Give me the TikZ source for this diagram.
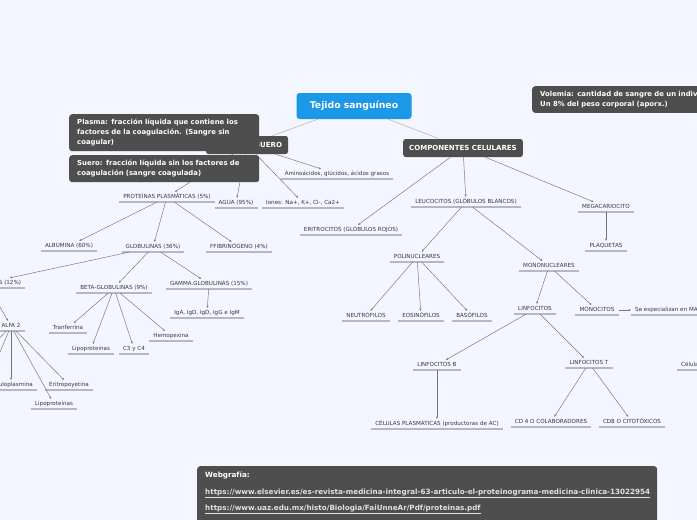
\documentclass[tikz,border=0pt]{standalone}
\usepackage{fontspec}
\setmainfont{DejaVu Sans}
\usepackage{xcolor}
\usetikzlibrary{arrows.meta}

\definecolor{fondo}{RGB}{243,246,254}
\definecolor{oscuro}{RGB}{78,78,78}
\definecolor{azul}{RGB}{27,152,231}
\definecolor{subr}{RGB}{180,184,196}
\definecolor{linea}{RGB}{115,115,115}
\definecolor{texto}{RGB}{55,55,60}
\definecolor{enlace}{RGB}{225,225,225}

\begin{document}
\begin{tikzpicture}[x=1pt,y=-1pt,
  root/.style={fill=azul,rounded corners=3pt,text=white,
    font=\fontsize{9.3}{11}\selectfont\bfseries,minimum width=115pt,minimum height=26pt},
  topic/.style={fill=oscuro,rounded corners=2.5pt,text=white,
    font=\fontsize{7}{8}\selectfont\bfseries,inner xsep=6pt,minimum height=18pt},
  leaf/.style={text=texto,font=\fontsize{5.6}{6.5}\selectfont,inner xsep=4pt,inner ysep=2.2pt,
    text height=4.3pt,text depth=1.2pt,
    append after command={(\tikzlastnode.south west) edge[subr,line width=1.5pt] (\tikzlastnode.south east)}},
  note/.style={fill=oscuro,rounded corners=3pt,text=white,anchor=north west,
    font=\fontsize{6.9}{10}\selectfont\bfseries,align=left,inner xsep=8pt,inner ysep=5pt},
  conn/.style={linea,line width=0.45pt,-{Stealth[length=2.4pt,width=2pt]}},
  trunk/.style={linea!55,line width=0.5pt}]

\fill[fondo] (0,0) rectangle (697,520);
\useasboundingbox (0,0) rectangle (697,520);

% main topics
\node[root] (tejido) at (354,106) {Tejido sanguíneo};
\node[topic] (plasma) at (247,145) {PLASMA O SUERO};
\node[topic] (comp) at (463,148) {COMPONENTES CELULARES};

% plasma side
\node[leaf] (prot) at (167,197) {PROTEÍNAS PLASMÁTICAS (5\%)};
\node[leaf] (agua) at (236,203) {AGUA (95\%)};
\node[leaf] (iones) at (303,203) {Iones: Na+, K+, Cl-, Ca2+};
\node[leaf] (amino) at (337,174) {Aminoácidos, glúcidos, ácidos grasos};
\node[leaf] (albu) at (69,246) {ALBÚMINA (60\%)};
\node[leaf] (glob) at (153,247) {GLOBULINAS (36\%)};
\node[leaf] (fibri) at (239,247) {FFIBRINÓGENO (4\%)};
\node[leaf] (alfa) at (-14,283) {ALFA-GLOBULINAS (12\%)};
\node[leaf] (beta) at (114,288) {BETA-GLOBULINAS (9\%)};
\node[leaf] (gamma) at (209,284) {GAMMA.GLOBULINAS (15\%)};
\node[leaf] (inmuno) at (207,313) {IgA, IgD, IgD, IgG e IgM};
\node[leaf] (tranf) at (68,328) {Tranferrina};
\node[leaf] (lipob) at (91,349) {Lipoproteinas};
\node[leaf] (c3c4) at (134,349) {C3 y C4};
\node[leaf] (hemo) at (171,336) {Hemopexina};
\node[leaf] (alfados) at (11,326) {ALFA 2};
\node[leaf] (cerulo) at (11,385) {Ceruloplasmina};
\node[leaf] (eritro) at (69,385) {Eritropoyetina};
\node[leaf] (lipoa) at (54,404) {Lipoproteinas};
\coordinate (alfaizq) at (-45,385);
\coordinate (alfaizqb) at (-22,404);

% cell side
\node[leaf] (eritroc) at (351,230) {ERITROCITOS (GLÓBULOS ROJOS)};
\node[leaf] (leuco) at (466,202) {LEUCOCITOS (GLÓBULOS BLANCOS)};
\node[leaf] (mega) at (606,207) {MEGACARIOCITO};
\node[leaf] (plaq) at (606,246) {PLAQUETAS};
\node[leaf] (poli) at (417,257) {POLINUCLEARES};
\node[leaf] (mono) at (549,266) {MONONUCLEARES};
\node[leaf] (neutro) at (366,316) {NEUTRÓFILOS};
\node[leaf] (eosi) at (421,316) {EOSINÓFILOS};
\node[leaf] (baso) at (472,316) {BASÓFILOS};
\node[leaf] (linfo) at (535,309) {LINFOCITOS};
\node[leaf] (monoc) at (597,310) {MONOCITOS};
\node[leaf,anchor=west] (macro) at (631,310) {Se especializan en MACRÓFAGOS};
\node[leaf] (linfob) at (437,365) {LINFOCITOS B};
\node[leaf] (linfot) at (589,363) {LINFOCITOS T};
\node[leaf,anchor=west] (nk) at (677,365) {Células NK};
\node[leaf] (plasmat) at (437,424) {CÉLULAS PLASMÁTICAS (productoras de AC)};
\node[leaf] (cd4) at (551,422) {CD 4 O COLABORADORES};
\node[leaf] (cd8) at (632,422) {CD8 O CITOTÓXICOS};

% connectors
\draw[trunk] (tejido) -- (plasma);
\draw[trunk] (tejido) -- (comp);
\foreach \a/\b in {plasma/prot,plasma/agua,plasma/iones,plasma/amino,
    prot/albu,prot/glob,prot/fibri,glob/alfa,glob/beta,glob/gamma,gamma/inmuno,
    beta/tranf,beta/lipob,beta/c3c4,beta/hemo,alfa/alfados,
    alfados/cerulo,alfados/eritro,alfados/lipoa,alfados/alfaizq,alfados/alfaizqb,
    comp/eritroc,comp/leuco,comp/mega,mega/plaq,leuco/poli,leuco/mono,
    poli/neutro,poli/eosi,poli/baso,mono/linfo,mono/monoc,monoc/macro,
    linfo/linfob,linfo/linfot,linfob/plasmat,linfot/cd4,linfot/cd8}
  \draw[conn] (\a) -- (\b);

% notes
\node[note,text width=174pt] (notaplasma) at (69,114)
  {Plasma: fracción líquida que contiene los\\factores de la coagulación. (Sangre sin\\coagular)};
\node[note,text width=174pt] (notasuero) at (69,155)
  {Suero: fracción líquida sin los factores de\\coagulación (sangre coagulada)};
\node[note,text width=250pt] (volemia) at (532,86)
  {Volemia: cantidad de sangre de un individuo\\Un 8\% del peso corporal (aporx.)};
\node[note,text width=444pt,inner ysep=6pt,font=\fontsize{7.2}{10}\selectfont\bfseries] (web) at (197,466)
  {Webgrafía:\\[6.3pt]
   \textcolor{enlace}{\underline{https://www.elsevier.es/es-revista-medicina-integral-63-articulo-el-proteinograma-medicina-clinica-13022954}}\\[6.3pt]
   \textcolor{enlace}{\underline{https://www.uaz.edu.mx/histo/Biologia/FaiUnneAr/Pdf/proteinas.pdf}}\\[6pt]
   \mbox{}};
\end{tikzpicture}
\end{document}
